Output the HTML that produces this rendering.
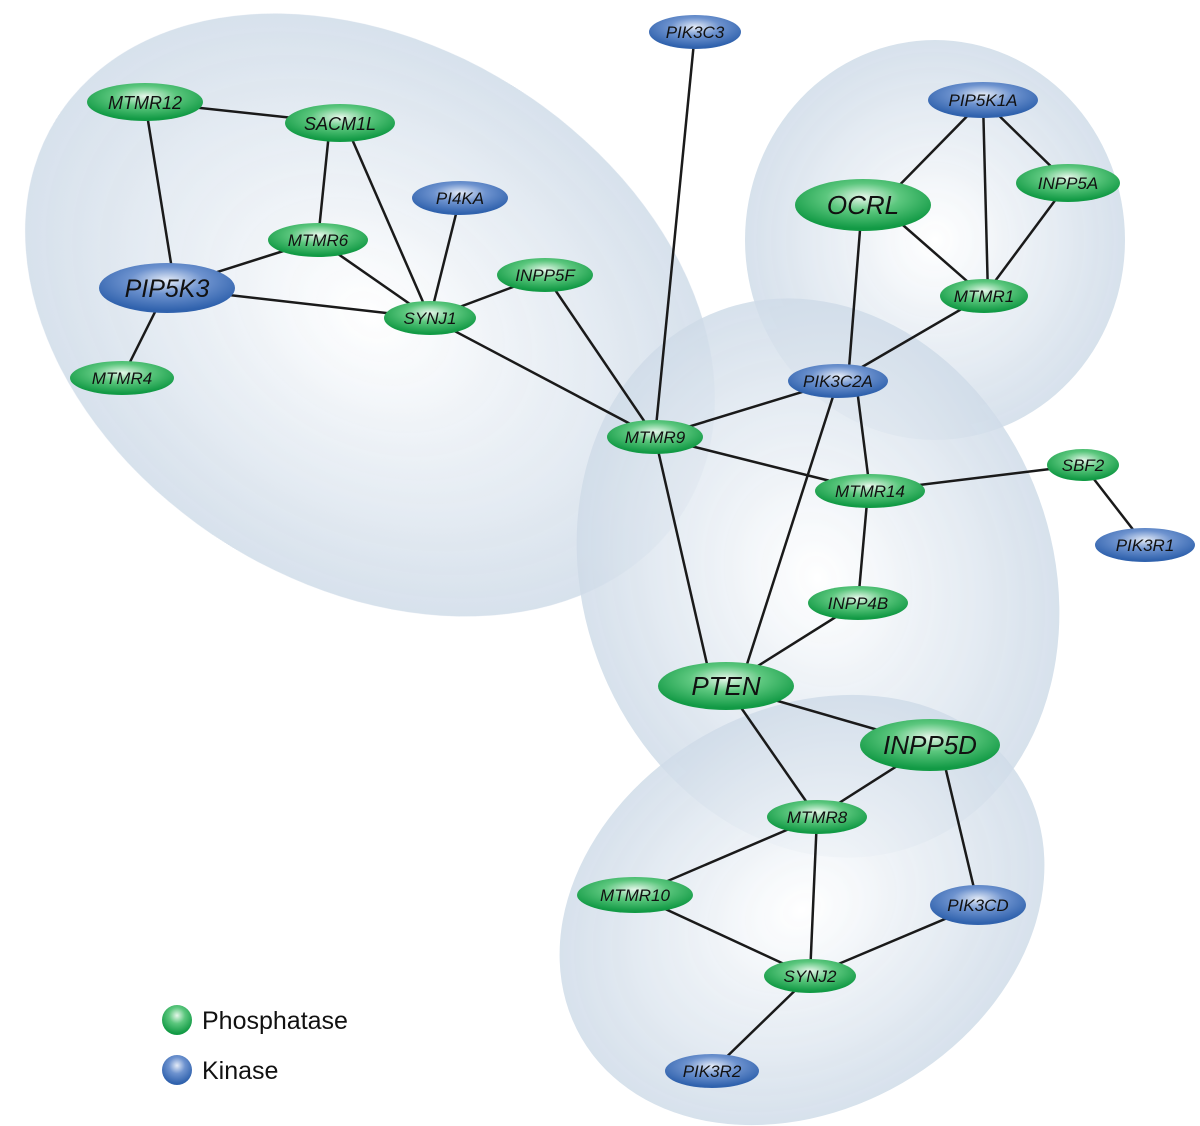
<!DOCTYPE html>
<html><head><meta charset="utf-8"><style>
html,body{margin:0;padding:0;background:#fff;}
svg{display:block;}
text{font-family:"Liberation Sans",sans-serif;}
</style></head><body>
<svg width="1200" height="1126" viewBox="0 0 1200 1126" xmlns="http://www.w3.org/2000/svg">
<defs>
<radialGradient id="cl" cx="50%" cy="50%" r="50%">
<stop offset="0" stop-color="#ffffff" stop-opacity="0.9"/>
<stop offset="1" stop-color="#c4d3e3" stop-opacity="0.85"/>
</radialGradient>
<radialGradient id="g" cx="50%" cy="35%" r="60%">
<stop offset="0" stop-color="#e6f7ea"/>
<stop offset="0.45" stop-color="#5cc77e"/>
<stop offset="1" stop-color="#129a45"/>
</radialGradient>
<radialGradient id="b" cx="50%" cy="35%" r="60%">
<stop offset="0" stop-color="#e4ebf7"/>
<stop offset="0.45" stop-color="#6e93cf"/>
<stop offset="1" stop-color="#3062ad"/>
</radialGradient>
</defs>
<g opacity="0.8">
<ellipse cx="370" cy="315" rx="370" ry="270" transform="rotate(32 370 315)" fill="url(#cl)"/>
<ellipse cx="935" cy="240" rx="190" ry="200" fill="url(#cl)"/>
<ellipse cx="818" cy="578" rx="235" ry="285" transform="rotate(-20 818 578)" fill="url(#cl)"/>
<ellipse cx="802" cy="910" rx="255" ry="200" transform="rotate(-30 802 910)" fill="url(#cl)"/>
</g>
<g stroke="#1a1a1a" stroke-width="2.5">
<line x1="145" y1="102" x2="340" y2="123"/>
<line x1="145" y1="102" x2="175" y2="288"/>
<line x1="330" y1="123" x2="318" y2="240"/>
<line x1="345" y1="123" x2="430" y2="318"/>
<line x1="318" y1="240" x2="167" y2="288"/>
<line x1="318" y1="240" x2="430" y2="318"/>
<line x1="167" y1="288" x2="430" y2="318"/>
<line x1="167" y1="288" x2="122" y2="378"/>
<line x1="460" y1="198" x2="430" y2="318"/>
<line x1="430" y1="318" x2="545" y2="275"/>
<line x1="430" y1="318" x2="655" y2="437"/>
<line x1="545" y1="275" x2="655" y2="437"/>
<line x1="695" y1="32" x2="655" y2="437"/>
<line x1="655" y1="437" x2="838" y2="381"/>
<line x1="655" y1="437" x2="870" y2="491"/>
<line x1="655" y1="437" x2="712" y2="686"/>
<line x1="983" y1="100" x2="880" y2="205"/>
<line x1="983" y1="100" x2="1068" y2="183"/>
<line x1="983" y1="100" x2="988" y2="296"/>
<line x1="880" y1="205" x2="984" y2="296"/>
<line x1="1068" y1="183" x2="984" y2="296"/>
<line x1="862" y1="205" x2="848" y2="381"/>
<line x1="984" y1="296" x2="838" y2="381"/>
<line x1="856" y1="381" x2="870" y2="491"/>
<line x1="838" y1="381" x2="740" y2="686"/>
<line x1="870" y1="491" x2="1083" y2="465"/>
<line x1="1083" y1="465" x2="1145" y2="545"/>
<line x1="868" y1="491" x2="858" y2="603"/>
<line x1="858" y1="603" x2="726" y2="686"/>
<line x1="726" y1="686" x2="930" y2="745"/>
<line x1="726" y1="686" x2="817" y2="817"/>
<line x1="930" y1="745" x2="817" y2="817"/>
<line x1="940" y1="745" x2="978" y2="905"/>
<line x1="817" y1="817" x2="635" y2="895"/>
<line x1="817" y1="817" x2="810" y2="976"/>
<line x1="635" y1="895" x2="810" y2="976"/>
<line x1="978" y1="905" x2="810" y2="976"/>
<line x1="810" y1="976" x2="712" y2="1071"/>
</g>
<g font-style="italic" text-anchor="middle" fill="#111">
<ellipse cx="695" cy="32" rx="46" ry="17" fill="url(#b)"/><text x="695" y="38" font-size="17">PIK3C3</text>
<ellipse cx="145" cy="102" rx="58" ry="19" fill="url(#g)"/><text x="145" y="109" font-size="18">MTMR12</text>
<ellipse cx="340" cy="123" rx="55" ry="19" fill="url(#g)"/><text x="340" y="130" font-size="18">SACM1L</text>
<ellipse cx="460" cy="198" rx="48" ry="17" fill="url(#b)"/><text x="460" y="204" font-size="17">PI4KA</text>
<ellipse cx="318" cy="240" rx="50" ry="17" fill="url(#g)"/><text x="318" y="246" font-size="17">MTMR6</text>
<ellipse cx="167" cy="288" rx="68" ry="25" fill="url(#b)"/><text x="167" y="297" font-size="25">PIP5K3</text>
<ellipse cx="430" cy="318" rx="46" ry="17" fill="url(#g)"/><text x="430" y="324" font-size="17">SYNJ1</text>
<ellipse cx="545" cy="275" rx="48" ry="17" fill="url(#g)"/><text x="545" y="281" font-size="17">INPP5F</text>
<ellipse cx="122" cy="378" rx="52" ry="17" fill="url(#g)"/><text x="122" y="384" font-size="17">MTMR4</text>
<ellipse cx="983" cy="100" rx="55" ry="18" fill="url(#b)"/><text x="983" y="106" font-size="17">PIP5K1A</text>
<ellipse cx="863" cy="205" rx="68" ry="26" fill="url(#g)"/><text x="863" y="214" font-size="26">OCRL</text>
<ellipse cx="1068" cy="183" rx="52" ry="19" fill="url(#g)"/><text x="1068" y="189" font-size="17">INPP5A</text>
<ellipse cx="984" cy="296" rx="44" ry="17" fill="url(#g)"/><text x="984" y="302" font-size="17">MTMR1</text>
<ellipse cx="838" cy="381" rx="50" ry="17" fill="url(#b)"/><text x="838" y="387" font-size="17">PIK3C2A</text>
<ellipse cx="655" cy="437" rx="48" ry="17" fill="url(#g)"/><text x="655" y="443" font-size="17">MTMR9</text>
<ellipse cx="1083" cy="465" rx="36" ry="16" fill="url(#g)"/><text x="1083" y="471" font-size="17">SBF2</text>
<ellipse cx="870" cy="491" rx="55" ry="17" fill="url(#g)"/><text x="870" y="497" font-size="17">MTMR14</text>
<ellipse cx="1145" cy="545" rx="50" ry="17" fill="url(#b)"/><text x="1145" y="551" font-size="17">PIK3R1</text>
<ellipse cx="858" cy="603" rx="50" ry="17" fill="url(#g)"/><text x="858" y="609" font-size="17">INPP4B</text>
<ellipse cx="726" cy="686" rx="68" ry="24" fill="url(#g)"/><text x="726" y="695" font-size="26">PTEN</text>
<ellipse cx="930" cy="745" rx="70" ry="26" fill="url(#g)"/><text x="930" y="754" font-size="26">INPP5D</text>
<ellipse cx="817" cy="817" rx="50" ry="17" fill="url(#g)"/><text x="817" y="823" font-size="17">MTMR8</text>
<ellipse cx="635" cy="895" rx="58" ry="18" fill="url(#g)"/><text x="635" y="901" font-size="17">MTMR10</text>
<ellipse cx="978" cy="905" rx="48" ry="20" fill="url(#b)"/><text x="978" y="911" font-size="17">PIK3CD</text>
<ellipse cx="810" cy="976" rx="46" ry="17" fill="url(#g)"/><text x="810" y="982" font-size="17">SYNJ2</text>
<ellipse cx="712" cy="1071" rx="47" ry="17" fill="url(#b)"/><text x="712" y="1077" font-size="17">PIK3R2</text>
</g>
<circle cx="177" cy="1020" r="15" fill="url(#g)"/>
<circle cx="177" cy="1070" r="15" fill="url(#b)"/>
<text x="202" y="1029" font-size="25" fill="#111">Phosphatase</text>
<text x="202" y="1079" font-size="25" fill="#111">Kinase</text>
</svg>
</body></html>
